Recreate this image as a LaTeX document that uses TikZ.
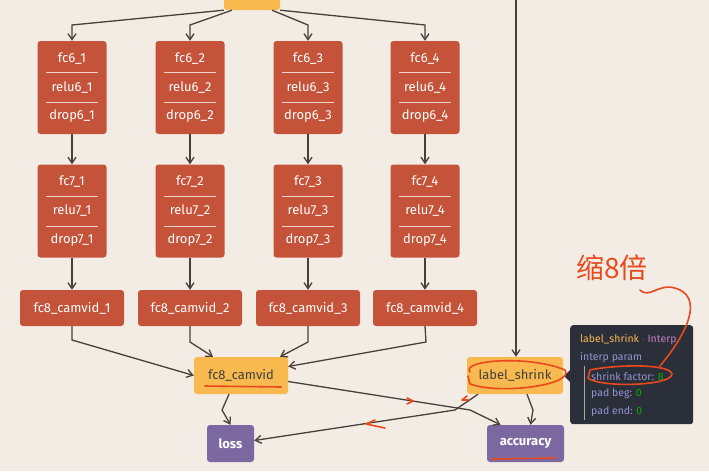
\documentclass[tikz,border=0pt]{standalone}
\usepackage{fontspec}
\setmainfont{Fira Sans}
\newfontfamily\cjk{Noto Sans CJK SC}
\usetikzlibrary{positioning, arrows.meta, calc}
\definecolor{paper}{HTML}{F3ECE4}
\definecolor{layer}{HTML}{C4533A}
\definecolor{blob}{HTML}{F8B94E}
\definecolor{lossc}{HTML}{7B68A0}
\definecolor{wire}{HTML}{4A3F3A}
\definecolor{tip}{HTML}{2B2F3A}
\definecolor{ink}{HTML}{E8491D}
\tikzset{
x=1pt, y=-1pt,
>={Straight Barb[length=6pt,width=8pt]},
every node/.append style={font=\fontsize{13}{15}\selectfont, inner sep=0pt},
layerbox/.style={fill=layer, rounded corners=3pt, text=white},
blobbox/.style={fill=blob, rounded corners=3pt, text=black!75},
outbox/.style={fill=lossc, rounded corners=3pt, text=white, font=\fontsize{13}{15}\selectfont\bfseries},
wire/.style={draw=wire, line width=1.3pt, ->},
pen/.style={draw=ink, line width=1.6pt, line cap=round, line join=round},
}
% three stacked layers in one box
\newcommand{\stackbox}[6]{%
  \node[layerbox, minimum width=69, minimum height=93] (#1) at (#2,#3) {};
  \node[text=white] at ($(#1.center)+(0,-29)$) {#4};
  \node[text=white] at ($(#1.center)+(0,0)$) {#5};
  \node[text=white] at ($(#1.center)+(0,29)$) {#6};
  \draw[white!75!layer] ($(#1.center)+(-26,-15)$) -- ++(52,0);
  \draw[white!75!layer] ($(#1.center)+(-26,15)$) -- ++(52,0);
}
\begin{document}
\begin{tikzpicture}
\fill[paper] (0,0) rectangle (709,471);
\useasboundingbox (0,0) rectangle (709,471);

\node[blobbox, minimum width=56, minimum height=20] (top) at (252,0) {};

% fc6 and fc7 stacks
\foreach \i/\x in {1/72,2/190,3/308,4/425}{
  \stackbox{fc6\i}{\x}{87.5}{fc6\_\i}{relu6\_\i}{drop6\_\i}
  \stackbox{fc7\i}{\x}{211}{fc7\_\i}{relu7\_\i}{drop7\_\i}
  \node[layerbox, minimum height=36, minimum width=104] (fc8\i) at (\x,308) {fc8\_camvid\_\i};
  \draw[wire] (fc6\i) -- (fc7\i);
  \draw[wire] (fc7\i) -- (fc8\i);
}

\node[blobbox, minimum width=94, minimum height=37] (camvid) at (241,375.5) {fc8\_camvid};
\node[blobbox, minimum width=96, minimum height=37] (shrink) at (515,375.5) {label\_shrink};
\node[outbox, minimum width=47, minimum height=37] (loss) at (230.5,443.5) {loss};
\node[outbox, minimum width=77, minimum height=37] (acc) at (525.5,443.5) {accuracy};
\coordinate (feed) at (516,0);

% data from top
\draw[wire] (top.south west) -- (72,25) -- (fc61.north);
\draw[wire] ($(top.south)+(-20,0)$) -- (190,25) -- (fc62.north);
\draw[wire] ($(top.south)+(20,0)$) -- (308,25) -- (fc63.north);
\draw[wire] (top.south east) -- (425,25) -- (fc64.north);
\draw[wire] (feed) -- (shrink.north -| feed);

% into fc8_camvid
\draw[wire] (fc81.south) -- (72,340) -- (camvid.west);
\draw[wire] (fc82.south) -- (190,342) -- ($(camvid.north)+(-28,0)$);
\draw[wire] (fc83.south) -- (308,342) -- ($(camvid.north)+(39,0)$);
\draw[wire] (fc84.south) -- (426,342) -- ($(camvid.east)+(0,-9)$);

% outputs
\draw[wire] ($(camvid.south)+(-12,0)$) -- (222,410) -- (loss.north);
\draw[wire] ($(camvid.east)+(0,6)$) -- (470,410) -- ($(acc.north)+(-25,0)$);
\draw[wire] ($(shrink.south)+(-37,0)$) -- (455,410) -- ($(loss.east)+(0,-3)$);
\draw[wire] ($(shrink.south)+(12,0)$) -- (533,410) -- ($(acc.north)+(5,0)$);

% tooltip
\node[fill=tip, rounded corners=3pt, minimum width=123, minimum height=99, anchor=north west] (tooltip) at (570,325) {};
\fill[tip] (570,370) -- (564,376) -- (570,382) -- cycle;
\begin{scope}[every node/.append style={font=\fontsize{10.5}{13}\selectfont, anchor=west}]
\node at (580,340) {\textcolor{blob}{label\_shrink} \textcolor{gray}{\(\cdot\)} \textcolor{violet!50!white}{Interp}};
\node[text=gray!60!blue!60!white] at (580,358) {interp param};
\node[text=gray!60!blue!60!white] at (591,376) {shrink factor: \textcolor{green!70!black}{8}};
\node[text=gray!60!blue!60!white] at (591,394) {pad beg: \textcolor{green!70!black}{0}};
\node[text=gray!60!blue!60!white] at (591,412) {pad end: \textcolor{green!70!black}{0}};
\end{scope}
\draw[gray!70] (584,366) -- (584,420);

% pen marks
\node[text=ink, font=\cjk\fontsize{28}{30}\selectfont] (note) at (612,268) {缩8倍};
\draw[pen] (205,386) -- (281,387);
\draw[pen] (492,459) -- (555,458);
\draw[pen] (470,372) .. controls (460,360) and (530,355) .. (565,370) .. controls (575,385) and (500,395) .. (470,384) -- (468,376);
\draw[pen] (590,370) .. controls (620,364) and (670,364) .. (672,374) .. controls (672,386) and (600,388) .. (588,378) -- (590,370);
\draw[pen] (660,366) .. controls (690,330) and (700,300) .. (680,290) .. controls (660,280) and (650,300) .. (640,290);
\draw[pen] (407,398) -- (413,401) -- (407,404);
\draw[pen] (375,420) -- (366,424) -- (385,428);
\draw[pen] (467,396) -- (462,400) -- (468,400);
\end{tikzpicture}
\end{document}
